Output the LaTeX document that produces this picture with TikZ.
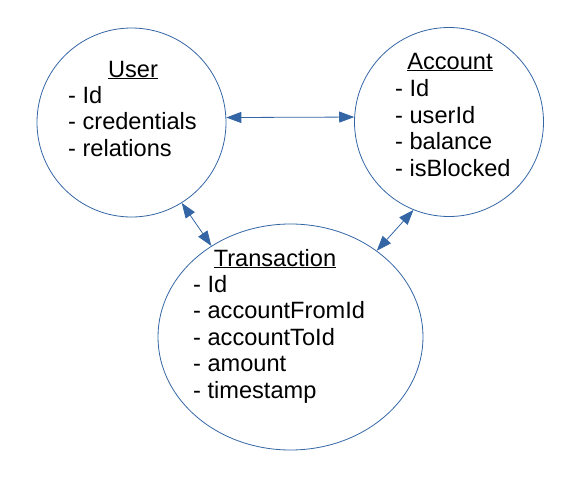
\documentclass[tikz,border=0pt]{standalone}
\usepackage{fontspec}
\setmainfont{Liberation Sans}
\usetikzlibrary{shapes.geometric,arrows.meta}
\definecolor{lineblue}{HTML}{3465A4}
\begin{document}
\begin{tikzpicture}[x=1pt,y=-1pt,
  ent/.style={draw=lineblue,line width=0.8pt,circle,inner sep=0pt,minimum size=189pt},
  entell/.style={draw=lineblue,line width=0.8pt,ellipse,inner sep=0pt,minimum width=265pt,minimum height=226pt},
  lbl/.style={font=\fontsize{23.6}{26}\selectfont,inner sep=0pt,anchor=base west,text=black},
  ttl/.style={font=\fontsize{23.6}{26}\selectfont,inner sep=0pt,anchor=base,text=black},
  link/.style={draw=lineblue,line width=0.8pt,{Triangle[length=15pt,width=11pt]}-{Triangle[length=15pt,width=11pt]}}]
\useasboundingbox (0,0) rectangle (587,479);
\node[ent] (user) at (131.5,122.5) {};
\node[ent] (account) at (449,122) {};
\node[entell] (trans) at (290.5,337) {};
% User
\node[ttl] (usert) at (133,77) {\underline{User}};
\node[lbl] (u1) at (68,103) {- Id};
\node[lbl] (u2) at (68,129) {- credentials};
\node[lbl] (u3) at (68,156) {- relations};
% Account
\node[ttl] (acct) at (450,69) {\underline{Account}};
\node[lbl] (a1) at (395,96) {- Id};
\node[lbl] (a2) at (395,123) {- userId};
\node[lbl] (a3) at (395,149) {- balance};
\node[lbl] (a4) at (395,176) {- isBlocked};
% Transaction
\node[ttl] (trt) at (275,266) {\underline{Transaction}};
\node[lbl] (t1) at (193,292) {- Id};
\node[lbl] (t2) at (193,318) {- accountFromId};
\node[lbl] (t3) at (193,345) {- accountToId};
\node[lbl] (t4) at (193,371) {- amount};
\node[lbl] (t5) at (193,398) {- timestamp};
% links
\draw[link] (user.3) -- (account.177);
\draw[link] (user.-58) -- (trans.131);
\draw[link] (account.248) -- (trans.45);
\end{tikzpicture}
\end{document}
